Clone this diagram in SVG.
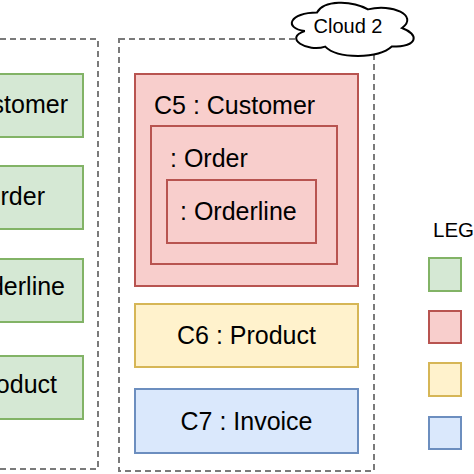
<svg xmlns="http://www.w3.org/2000/svg" width="474" height="474" viewBox="0 0 474 474">
<style>
text{font-family:"Liberation Sans",Arial,sans-serif;fill:#000}
.lbl{font-size:25px}
.cont{fill:none;stroke:#7a7a7a;stroke-width:2;stroke-dasharray:6 4}
.g{fill:#d5e8d4;stroke:#82b366;stroke-width:2}
.r{fill:#f8cecc;stroke:#b85450;stroke-width:2}
.y{fill:#fff2cc;stroke:#d6b656;stroke-width:2}
.b{fill:#dae8fc;stroke:#6c8ebf;stroke-width:2}
</style>
<rect width="474" height="474" fill="#ffffff"/>
<g id="cloud1">
<rect class="cont" x="-20" y="39" width="118" height="430"/>
</g>
<g id="cloud2-container">
<rect class="cont" x="119" y="39" width="255" height="432"/>
</g>
<g id="c-customer-left"><rect class="g" x="-10" y="74" width="93" height="63"/><text class="lbl" x="68" y="113" text-anchor="end">Customer</text></g>
<g id="c-order-left"><rect class="g" x="-10" y="166" width="93" height="63"/><text class="lbl" x="45" y="205" text-anchor="end">Order</text></g>
<g id="c-orderline-left"><rect class="g" x="-10" y="259" width="93" height="63"/><text class="lbl" x="65" y="295" text-anchor="end">Orderline</text></g>
<g id="c-product-left"><rect class="g" x="-10" y="356" width="93" height="63"/><text class="lbl" x="57" y="393" text-anchor="end">Product</text></g>
<g id="c5"><rect class="r" x="135" y="74" width="223" height="212"/><text class="lbl" x="154" y="114">C5 : Customer</text></g>
<g id="order"><rect class="r" x="151" y="126" width="186" height="138"/><text class="lbl" x="170" y="167">: Order</text></g>
<g id="orderline"><rect class="r" x="167" y="180" width="149" height="63"/><text class="lbl" x="180" y="220">: Orderline</text></g>
<g id="c6"><rect class="y" x="135" y="304" width="223" height="63"/><text class="lbl" x="246.5" y="344" text-anchor="middle">C6 : Product</text></g>
<g id="c7"><rect class="b" x="135" y="389" width="223" height="64"/><text class="lbl" x="246.5" y="430" text-anchor="middle">C7 : Invoice</text></g>
<g id="cloud2-label">
<path d="M317,12.5 C289.8,12.5 283,28 304.8,31.1 C283,37.9 307.5,52.8 325.2,46.6 C337.4,59 378.2,59 391.8,46.6 C419,46.6 419,34.2 402,28 C419,15.6 391.8,3.2 368,9.4 C351,0.1 323.8,0.1 317,12.5 Z" fill="#ffffff" stroke="#000" stroke-width="2"/>
<text x="348" y="33" font-size="20" text-anchor="middle">Cloud 2</text>
</g>
<g id="legend">
<text x="433" y="237" font-size="20.5">LEGEND</text>
<rect class="g" x="429" y="258" width="32" height="33"/>
<rect class="r" x="429" y="311" width="32" height="32"/>
<rect class="y" x="429" y="363" width="32" height="33"/>
<rect class="b" x="429" y="417" width="32" height="32"/>
</g>
</svg>
